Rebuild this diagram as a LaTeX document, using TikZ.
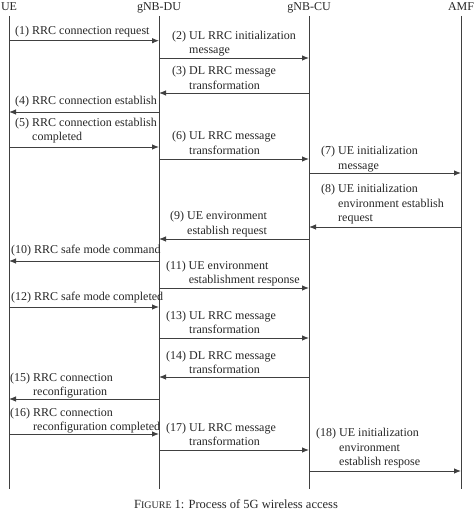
\documentclass[tikz,border=0pt]{standalone}
\usepackage{fontspec}
\setmainfont{Liberation Serif}
\usetikzlibrary{arrows.meta}
\newcommand\msgtext[2]{\begin{tabular}[t]{@{}l@{\space}l@{}}#1 & #2\end{tabular}}
\begin{document}
\begin{tikzpicture}[x=1pt,y=-1pt,
  life/.style={draw=black!75, line width=0.9pt},
  msg/.style={draw=black!75, line width=0.9pt, -{Latex[length=7pt,width=5.5pt]}},
  head/.style={inner sep=0pt, anchor=base, font=\fontsize{12}{14.5}\selectfont, text=black!85},
  lbl/.style={inner sep=0pt, anchor=base west, font=\fontsize{12}{14.5}\selectfont, text=black!85},
  captext/.style={inner sep=0pt, anchor=base, font=\fontsize{12.5}{14}\selectfont, text=black!85}]
\useasboundingbox (0,0) rectangle (474,510);
% heads
\node[head] (ue)  at (9,11)   {UE};
\node[head] (du)  at (159,11) {gNB-DU};
\node[head] (cu)  at (309,11) {gNB-CU};
\node[head] (amf) at (461,11) {AMF};
% lifelines
\coordinate (ueT) at (9,16);   \coordinate (ueB) at (9,489);
\coordinate (duT) at (159,16); \coordinate (duB) at (159,489);
\coordinate (cuT) at (309,16); \coordinate (cuB) at (309,489);
\coordinate (amfT) at (461,16); \coordinate (amfB) at (461,489);
\draw[life] (ueT) -- (ueB);
\draw[life] (duT) -- (duB);
\draw[life] (cuT) -- (cuB);
\draw[life] (amfT) -- (amfB);
% messages
\draw[msg] (ueT |- 0,40.7) -- (duT |- 0,40.7);
\draw[msg] (duT |- 0,58) -- (cuT |- 0,58);
\draw[msg] (cuT |- 0,93) -- (duT |- 0,93);
\draw[msg] (duT |- 0,112) -- (ueT |- 0,112);
\draw[msg] (ueT |- 0,147) -- (duT |- 0,147);
\draw[msg] (duT |- 0,159) -- (cuT |- 0,159);
\draw[msg] (cuT |- 0,173) -- (amfT |- 0,173);
\draw[msg] (amfT |- 0,227) -- (cuT |- 0,227);
\draw[msg] (cuT |- 0,239) -- (duT |- 0,239);
\draw[msg] (duT |- 0,261) -- (ueT |- 0,261);
\draw[msg] (duT |- 0,288) -- (cuT |- 0,288);
\draw[msg] (ueT |- 0,307) -- (duT |- 0,307);
\draw[msg] (duT |- 0,338) -- (cuT |- 0,338);
\draw[msg] (cuT |- 0,377) -- (duT |- 0,377);
\draw[msg] (duT |- 0,399) -- (ueT |- 0,399);
\draw[msg] (ueT |- 0,434) -- (duT |- 0,434);
\draw[msg] (duT |- 0,450) -- (cuT |- 0,450);
\draw[msg] (cuT |- 0,471) -- (amfT |- 0,471);
% labels
\node[lbl] (l1) at (15,34.5) {\msgtext{(1)}{RRC connection request}};
\node[lbl] (l2) at (172,39.5) {\msgtext{(2)}{UL RRC initialization\\ & message}};
\node[lbl] (l3) at (172,75) {\msgtext{(3)}{DL RRC message\\ & transformation}};
\node[lbl] (l4) at (15,104.5) {\msgtext{(4)}{RRC connection establish}};
\node[lbl] (l5) at (15,126.5) {\msgtext{(5)}{RRC connection establish\\ & completed}};
\node[lbl] (l6) at (172,140) {\msgtext{(6)}{UL RRC message\\ & transformation}};
\node[lbl] (l7) at (321,155) {\msgtext{(7)}{UE initialization\\ & message}};
\node[lbl] (l8) at (321,193) {\msgtext{(8)}{UE initialization\\ & environment establish\\ & request}};
\node[lbl] (l9) at (170,220) {\msgtext{(9)}{UE environment\\ & establish request}};
\node[lbl] (l10) at (11,253) {\msgtext{(10)}{RRC safe mode command}};
\node[lbl] (l11) at (166,269) {\msgtext{(11)}{UE environment\\ & establishment response}};
\node[lbl] (l12) at (11,300) {\msgtext{(12)}{RRC safe mode completed}};
\node[lbl] (l13) at (166,319) {\msgtext{(13)}{UL RRC message\\ & transformation}};
\node[lbl] (l14) at (166,359) {\msgtext{(14)}{DL RRC message\\ & transformation}};
\node[lbl] (l15) at (10,381) {\msgtext{(15)}{RRC connection\\ & reconfiguration}};
\node[lbl] (l16) at (10,416) {\msgtext{(16)}{RRC connection\\ & reconfiguration completed}};
\node[lbl] (l17) at (166,431) {\msgtext{(17)}{UL RRC message\\ & transformation}};
\node[lbl] (l18) at (316,436.5) {\msgtext{(18)}{UE initialization\\ & environment\\ & establish respose}};
% caption
\node[captext] (caption) at (236,508.5) {F{\fontsize{10}{12}\selectfont IGURE} 1: Process of 5G wireless access};
\end{tikzpicture}
\end{document}
